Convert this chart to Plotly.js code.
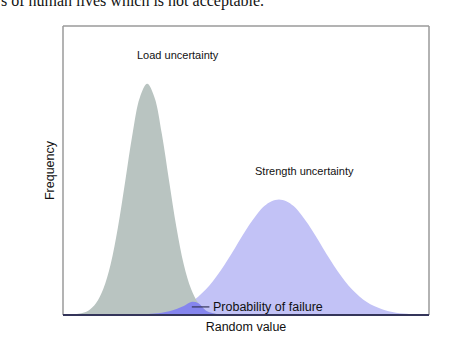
<!DOCTYPE html>
<html>
<head>
<meta charset="utf-8">
<script src="https://cdn.plot.ly/plotly-3.0.1.min.js"></script>
<style>html,body{margin:0;padding:0;background:#fff;overflow:hidden}#chart{width:474px;height:355px}</style>
</head>
<body>
<div id="chart"></div>
<script>
// Random value grid (x) and frequencies
const xValues = [0.3,0.5,0.7,0.9,1.1,1.3,1.5,1.7,1.9,2.1,2.3,2.5,2.7,2.9,3.1,3.3,3.5,3.7,3.9,4.1,4.3,4.5,4.7,4.9,5.1,5.3,5.5,5.7,5.9,6.1,6.3,6.5,6.7,6.9,7.1,7.3,7.5,7.7,7.9,8.1,8.3,8.5,8.7,8.9,9.1,9.3,9.5,9.7,9.9];
const loadFreq = [0.002,0.006,0.016,0.041,0.090,0.175,0.303,0.463,0.627,0.753,0.800,0.753,0.627,0.463,0.303,0.175,0.090,0.041,0.016,0.006,0.002,0.001,0,0,0,0,0,0,0,0,0,0,0,0,0,0,0,0,0,0,0,0,0,0,0,0,0,0,0];
const strengthFreq = [0,0,0,0,0,0,0,0,0.001,0.002,0.003,0.005,0.008,0.013,0.021,0.031,0.045,0.064,0.088,0.118,0.152,0.191,0.232,0.274,0.314,0.349,0.377,0.394,0.400,0.394,0.377,0.349,0.314,0.274,0.232,0.191,0.152,0.118,0.088,0.064,0.045,0.031,0.021,0.013,0.008,0.005,0.003,0.002,0.001];
const overlapFreq = xValues.map((_, i) => Math.min(loadFreq[i], strengthFreq[i]));

const labels = {
  load: "Load uncertainty",
  strength: "Strength uncertainty",
  failure: "Probability of failure",
  xTitle: "Random value",
  yTitle: "Frequency",
  header: "s of human lives which is not acceptable."
};

const textFont = {family: "Liberation Sans, Arial, sans-serif", size: 11, color: "#111"};
const bigFont = {family: "Liberation Sans, Arial, sans-serif", size: 12.5, color: "#111"};

const traces = [
  {x: xValues, y: strengthFreq, type: "scatter", mode: "lines", line: {width: 0, shape: "spline"}, fill: "tozeroy", fillcolor: "#c2c2f6", hoverinfo: "skip"},
  {x: xValues, y: loadFreq, type: "scatter", mode: "lines", line: {width: 0, shape: "spline"}, fill: "tozeroy", fillcolor: "#b9c4c1", hoverinfo: "skip"},
  {x: xValues, y: overlapFreq, type: "scatter", mode: "lines", line: {width: 0, shape: "spline"}, fill: "tozeroy", fillcolor: "#8585ee", hoverinfo: "skip"}
];

const layout = {
  width: 474, height: 355,
  margin: {l: 63, r: 45, t: 26, b: 40, pad: 0},
  paper_bgcolor: "#fff", plot_bgcolor: "#fff",
  showlegend: false,
  xaxis: {range: [0, 10], showgrid: false, zeroline: false, showticklabels: false, ticks: "", showline: false,
          title: {text: labels.xTitle, font: bigFont, standoff: 7}},
  yaxis: {range: [0, 1], showgrid: false, zeroline: false, showticklabels: false, ticks: "", showline: false,
          title: {text: labels.yTitle, font: bigFont, standoff: 4}},
  shapes: [
    {type: "line", xref: "paper", yref: "paper", x0: 0, x1: 0, y0: 0, y1: 1, line: {color: "#9a9a9a", width: 1.5}},
    {type: "line", xref: "paper", yref: "paper", x0: 0, x1: 1, y0: 1, y1: 1, line: {color: "#9a9a9a", width: 1.5}},
    {type: "line", xref: "paper", yref: "paper", x0: 1, x1: 1, y0: 0, y1: 1, line: {color: "#9a9a9a", width: 1.5}},
    {type: "line", xref: "paper", yref: "paper", x0: 0, x1: 1, y0: 0, y1: 0, line: {color: "#34355a", width: 2}},
    {type: "line", xref: "x", yref: "y", x0: 3.52, x1: 4.0, y0: 0.028, y1: 0.028, line: {color: "#34355a", width: 1.2}}
  ],
  annotations: [
    {text: labels.load, x: 3.14, y: 0.898, xref: "x", yref: "y", showarrow: false, font: textFont, xanchor: "center", yanchor: "middle"},
    {text: labels.strength, x: 6.61, y: 0.497, xref: "x", yref: "y", showarrow: false, font: textFont, xanchor: "center", yanchor: "middle"},
    {text: labels.failure, x: 4.03, y: 0.026, xref: "x", yref: "y", showarrow: false, font: bigFont, xanchor: "left", yanchor: "middle"},
    {text: labels.header, x: -0.175, y: 1.085, xref: "paper", yref: "paper", showarrow: false,
     font: {family: "Liberation Serif, DejaVu Serif, serif", size: 16, color: "#111"}, xanchor: "left", yanchor: "middle"}
  ]
};

Plotly.newPlot("chart", traces, layout, {staticPlot: true, displayModeBar: false});
</script>
</body>
</html>
